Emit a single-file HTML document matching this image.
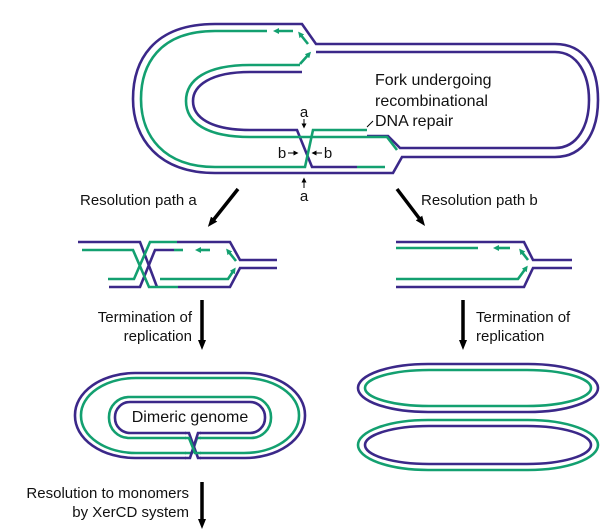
<!DOCTYPE html>
<html><head><meta charset="utf-8"><style>
html,body{margin:0;padding:0;background:#fff;}
svg{display:block;}
text{font-family:"Liberation Sans",Arial,sans-serif;fill:#111;}
</style></head><body>
<svg width="600" height="531" viewBox="0 0 600 531" xmlns="http://www.w3.org/2000/svg">
<defs>
<marker id="ga" markerWidth="6" markerHeight="6" refX="3" refY="3" orient="auto" markerUnits="userSpaceOnUse"><path d="M0,0 L6,3 L0,6 Z" fill="#13a070"/></marker>
<marker id="ka" markerWidth="10" markerHeight="10" refX="5" refY="5" orient="auto" markerUnits="userSpaceOnUse"><path d="M0,1 L10,5 L0,9 Z" fill="#000"/></marker>
<marker id="sk" markerWidth="5" markerHeight="5" refX="2.5" refY="2.5" orient="auto" markerUnits="userSpaceOnUse"><path d="M0,0 L5,2.5 L0,5 Z" fill="#000"/></marker>
</defs>
<g fill="none" stroke-width="2.6" stroke-linejoin="miter">
<!-- TOP -->
<path stroke="#3b2889" d="M302,24 H215 C152,24 133,62 133,99 C133,138 158,173 215,173 H393 L402,157 H555 C585,157 598,130 598,100 C598,68 585,44 555,44 H316 Z"/>
<path stroke="#3b2889" d="M316,52 H555 C578,52 589,75 589,100 C589,125 578,148 555,148 H400 L388,136 H367"/>
<path stroke="#3b2889" d="M302,72 H250 C210,72 193,86 193,101 C193,117 210,130 250,130 H297 L312,167 H357"/>
<path stroke="#13a070" d="M267,31 H215 C158,31 141,66 141,99 C141,135 163,167 215,167 H305 L313,130 H367"/>
<path stroke="#13a070" d="M300,65 H250 C206,65 186,80 186,101 C186,122 206,137 250,137 H387 L397,150"/>
<path stroke="#13a070" d="M357,167 H385"/>
<path stroke="#13a070" d="M293,31 H276" marker-end="url(#ga)"/>
<path stroke="#13a070" d="M308,44 L300,34" marker-end="url(#ga)"/>
<path stroke="#13a070" d="M300,64 L309,54" marker-end="url(#ga)"/>
<!-- PATH A fork -->
<path stroke="#3b2889" d="M78,242 H140 L157,287"/>
<path stroke="#3b2889" d="M109,287 H140 L155,250 H174"/>
<path stroke="#3b2889" d="M177,242 H230 L240,260 H277"/>
<path stroke="#3b2889" d="M178,287 H230 L240,268 H277"/>
<path stroke="#13a070" d="M82,250 H133 L149,287 H178"/>
<path stroke="#13a070" d="M108,279 H134 L150,242 H177"/>
<path stroke="#13a070" d="M174,250 H183"/>
<path stroke="#13a070" d="M160,279 H228 L234,270" marker-end="url(#ga)"/>
<path stroke="#13a070" d="M210,250 H198" marker-end="url(#ga)"/>
<path stroke="#13a070" d="M236,261 L228,251" marker-end="url(#ga)"/>
<!-- PATH B fork -->
<path stroke="#3b2889" d="M396,242 H524 L533,260 H572"/>
<path stroke="#3b2889" d="M396,287 H524 L533,268 H572"/>
<path stroke="#13a070" d="M396,248 H478"/>
<path stroke="#13a070" d="M396,279 H518 L526,268" marker-end="url(#ga)"/>
<path stroke="#13a070" d="M510,248 H496" marker-end="url(#ga)"/>
<path stroke="#13a070" d="M528,260 L521,251" marker-end="url(#ga)"/>
<!-- Dimer -->
<rect x="75" y="373" width="230" height="85" rx="60" ry="42" stroke="#3b2889"/>
<rect x="81" y="378" width="218" height="75" rx="55" ry="37" stroke="#13a070"/>
<rect x="109" y="397" width="162" height="41" rx="20" stroke="#13a070"/>
<rect x="115" y="402" width="150" height="31" rx="15" stroke="#3b2889"/>
<rect x="186" y="430" width="14" height="30" fill="#fff" stroke="none"/>
<path stroke="#13a070" d="M185,453 L192,453 L197,438 L201,438"/>
<path stroke="#3b2889" d="M185,458 L190,458 L198,433 L201,433"/>
<path stroke="#3b2889" d="M185,433 L189,433 L198,458 L201,458"/>
<path stroke="#13a070" d="M185,438 L189,438 L195,453 L201,453"/>
<!-- right monomers -->
<rect x="358" y="364" width="240" height="48" rx="70" ry="24" stroke="#3b2889"/>
<rect x="365" y="370" width="226" height="36" rx="64" ry="18" stroke="#13a070"/>
<rect x="358" y="420" width="240" height="50" rx="70" ry="25" stroke="#13a070"/>
<rect x="365" y="426" width="226" height="38" rx="64" ry="19" stroke="#3b2889"/>
</g>
<!-- black arrows -->
<g stroke="#000" stroke-width="3.5" fill="none">
<path d="M238,189 L211,223" marker-end="url(#ka)"/>
<path d="M397,189 L422,222" marker-end="url(#ka)"/>
<path d="M202,300 L202,345" marker-end="url(#ka)"/>
<path d="M463,300 L463,345" marker-end="url(#ka)"/>
<path d="M202,482 L202,524" marker-end="url(#ka)"/>
</g>
<g stroke="#000" stroke-width="1" fill="none">
<path d="M304,119 L304,126" marker-end="url(#sk)"/>
<path d="M304,188 L304,180" marker-end="url(#sk)"/>
<path d="M288,153 L296,153" marker-end="url(#sk)"/>
<path d="M322,153 L314,153" marker-end="url(#sk)"/>
<path d="M373,121 L367,127"/>
</g>
<g font-size="15">
<text x="304" y="117" text-anchor="middle">a</text>
<text x="304" y="201" text-anchor="middle">a</text>
<text x="282" y="158" text-anchor="middle">b</text>
<text x="328" y="158" text-anchor="middle">b</text>
<text x="375" y="85" font-size="16">Fork undergoing</text>
<text x="375" y="106" font-size="16">recombinational</text>
<text x="375" y="126" font-size="16">DNA repair</text>
<text x="80" y="205">Resolution path a</text>
<text x="421" y="205">Resolution path b</text>
<text x="192" y="322" text-anchor="end">Termination of</text>
<text x="192" y="341" text-anchor="end">replication</text>
<text x="476" y="322">Termination of</text>
<text x="476" y="341">replication</text>
<text x="190" y="422" text-anchor="middle" font-size="16">Dimeric genome</text>
<text x="189" y="498" text-anchor="end">Resolution to monomers</text>
<text x="189" y="517" text-anchor="end">by XerCD system</text>
</g>
</svg>
</body></html>
